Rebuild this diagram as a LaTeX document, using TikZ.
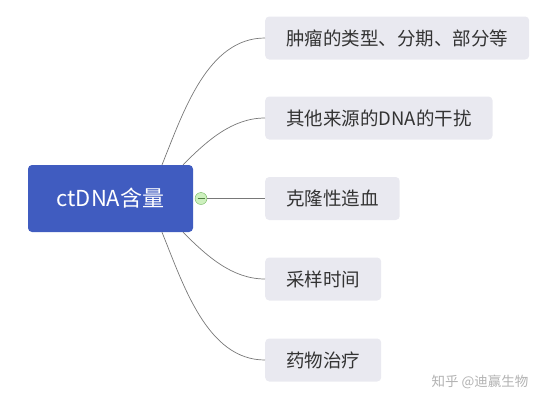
\documentclass[tikz,border=0pt]{standalone}
\usepackage{fontspec}
\newfontfamily\cjk{Noto Sans CJK SC}
\definecolor{rootblue}{RGB}{64,92,192}
\definecolor{leafgray}{RGB}{233,233,240}
\definecolor{linegray}{RGB}{120,120,120}
\definecolor{knobgreen}{RGB}{205,240,190}
\definecolor{knobedge}{RGB}{110,180,90}

\tikzset{
  root/.style={rectangle, rounded corners=4pt, fill=rootblue, text=white,
    minimum width=165pt, minimum height=67pt, font=\cjk\fontsize{22}{25}\selectfont},
  leaf/.style={rectangle, rounded corners=4pt, fill=leafgray, text=black!80,
    minimum height=43pt, inner xsep=21pt, anchor=west, font=\cjk\fontsize{18.5}{22}\selectfont},
  branch/.style={draw=linegray, line width=0.7pt}
}

\begin{document}
\begin{tikzpicture}[x=1pt, y=-1pt]
  \useasboundingbox (0,0) rectangle (546,408);
  % central topic
  \node[root] (ctr) at (110.5,198.5) {ctDNA含量};
  % subtopics
  \node[leaf] (t1) at (265,38) {肿瘤的类型、分期、部分等};
  \node[leaf] (t2) at (265,118) {其他来源的DNA的干扰};
  \node[leaf] (t3) at (265,198.5) {克隆性造血};
  \node[leaf] (t4) at (265,279) {采样时间};
  \node[leaf] (t5) at (265,360) {药物治疗};
  % collapse knob
  \node[circle, draw=knobedge, fill=knobgreen, minimum size=12pt, inner sep=0pt] (knob) at (201,198.5) {};
  \draw[knobedge!70!black, line width=0.6pt] ([xshift=-3.5pt]knob.center) -- ([xshift=3.5pt]knob.center);
  % branches
  \draw[branch] ([xshift=51.5pt]ctr.north) to[out=68, in=180, looseness=0.9] (t1.west);
  \draw[branch] ([xshift=72.5pt]ctr.north) to[out=45, in=180, looseness=0.9] (t2.west);
  \draw[branch] (knob.east) -- (t3.west);
  \draw[branch] ([xshift=72.5pt]ctr.south) to[out=-45, in=180, looseness=0.9] (t4.west);
  \draw[branch] ([xshift=51.5pt]ctr.south) to[out=-68, in=180, looseness=0.9] (t5.west);
  % watermark
  \node[text=black!30, font=\cjk\fontsize{13.5}{16}\selectfont, anchor=east] (wm) at (532,382) {知乎 @迪赢生物};
\end{tikzpicture}
\end{document}
